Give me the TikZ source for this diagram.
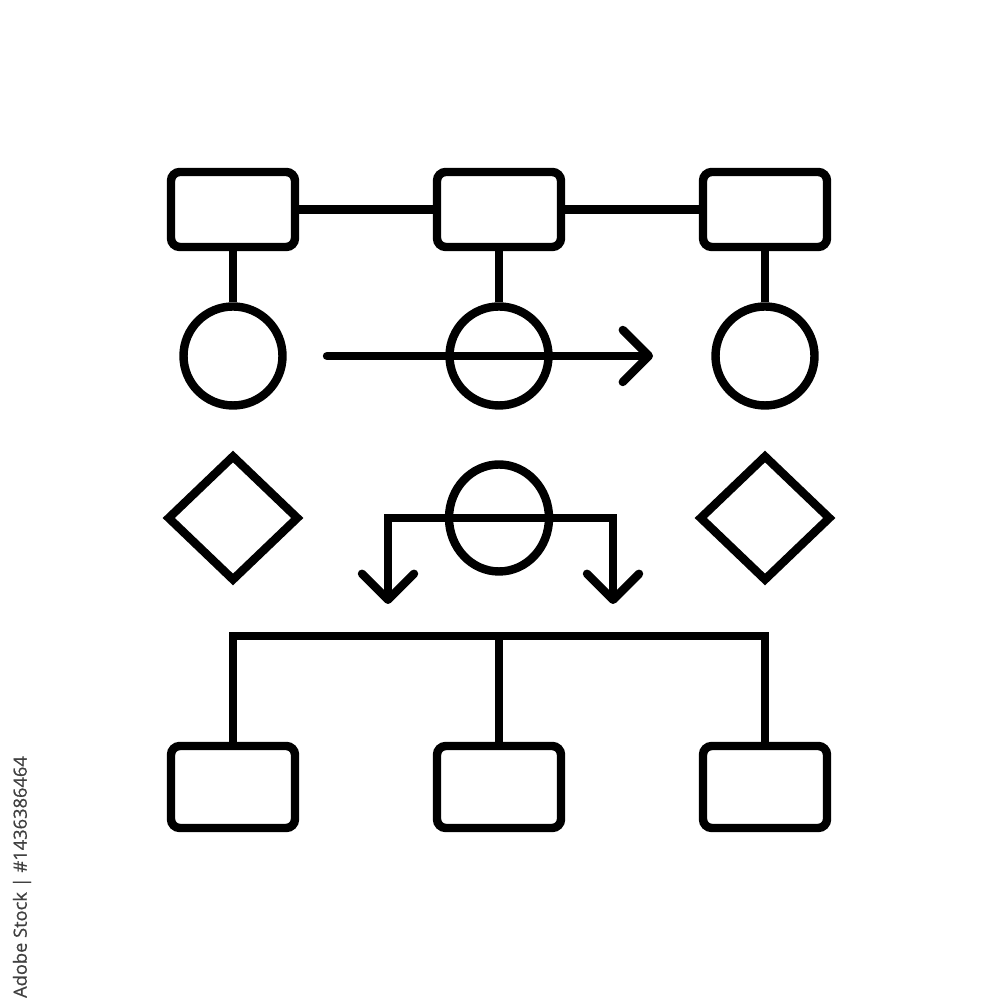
\documentclass[tikz,border=0pt]{standalone}
\usepackage{fontspec}
\newfontfamily\stockfont[FakeBold=0.6]{Open Sans}
\usetikzlibrary{matrix,arrows.meta,shapes.geometric}

\tikzset{
  box/.style={draw, rounded corners=2.5pt, minimum width=1.24cm, minimum height=0.75cm, inner sep=0pt},
  lowbox/.style={box, minimum height=0.82cm},
  ring/.style={draw, circle, minimum size=0.99cm, inner sep=0pt},
  oval/.style={draw, ellipse, minimum width=1.0cm, minimum height=1.07cm, inner sep=0pt},
  rhomb/.style={draw, diamond, minimum width=1.32cm, minimum height=1.265cm, inner sep=0pt},
  link/.style={line width=2.4pt},
  flow/.style={line width=2.4pt, line cap=round, -{Straight Barb[length=2.6mm,width=5.2mm,round]}},
}

\begin{document}
\begin{tikzpicture}[line width=2.4pt]
  \fill[white] (0,0) rectangle (10,10);
  \useasboundingbox (0,0) rectangle (10,10);
  \matrix (m) [matrix of nodes, nodes={anchor=center}, column sep={2.66cm,between origins},
    matrix anchor=m-1-1.center] at (2.33,7.905)
  {
|[box]|    & |[box]|    & |[box]|    \\[1.465cm,between origins]
|[ring]|   & |[ring]|   & |[ring]|   \\[1.62cm,between origins]
|[rhomb]|  & |[oval]|   & |[rhomb]|  \\[2.69cm,between origins]
|[lowbox]| & |[lowbox]| & |[lowbox]| \\
};
  % free ends of the arrows
  \coordinate (tail) at (3.27,6.44);
  \coordinate (head) at (6.53,6.44);
  \coordinate (ltip) at (3.88,3.96);
  \coordinate (rtip) at (6.13,3.96);
  \path (m-4-2.north) ++(0,1.06) coordinate (hub);

  \draw[link] (m-1-1) -- (m-1-2) (m-1-2) -- (m-1-3);
  \foreach \c in {1,2,3}
    \draw[link] (m-1-\c) -- (m-2-\c);
  \draw[flow] (tail) -- (head);
  \draw[flow] (m-3-2.center) -| (ltip);
  \draw[flow] (m-3-2.center) -| (rtip);
  \draw[link] (m-4-1) |- (hub) -| (m-4-3);
  \draw[link] (hub) -- (m-4-2);

  \node (id) [rotate=90, anchor=east, inner sep=0pt, text=black!75, font=\stockfont\fontsize{5.2}{6}\selectfont]
    at (0.22,2.48) {Adobe Stock | \#1436386464};
\end{tikzpicture}
\end{document}
